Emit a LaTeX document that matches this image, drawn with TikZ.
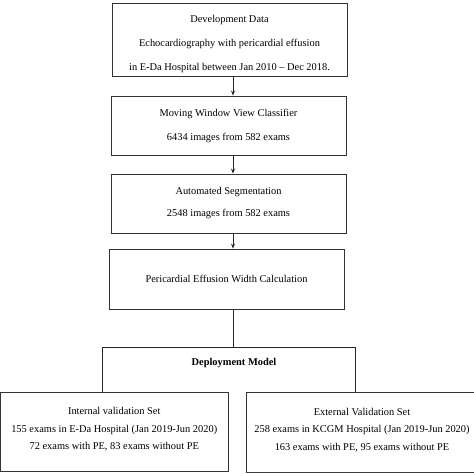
\documentclass[tikz,border=0pt]{standalone}
\usepackage{fontspec}
\setmainfont{Liberation Serif}
\usetikzlibrary{arrows.meta}
\begin{document}
\begin{tikzpicture}[x=1pt,y=-1pt,
  box/.style={draw=black!80, line width=0.9pt, inner sep=0pt, align=center,
    font=\fontsize{10.4pt}{12.5pt}\selectfont},
  conn/.style={draw=black!85, line width=0.9pt},
  arr/.style={conn, -{Stealth[length=5pt,width=4pt]}}]
\useasboundingbox (0,0) rectangle (474,474);
\clip (0,0) rectangle (474,474);
\fill[white] (0,0) rectangle (474,474);
\node[box, minimum width=235pt, minimum height=73pt] (b1) at (229.5,39.5)
  {\raisebox{-4pt}[\height][\depth]{\begin{tabular}{@{}c@{}}Development Data\\[11.5pt]Echocardiography with pericardial effusion\\[11.5pt]in E-Da Hospital between Jan 2010 -- Dec 2018.\end{tabular}}};
\node[box, minimum width=235pt, minimum height=59pt] (b2) at (228.5,125.5)
  {Moving Window View Classifier\\[11.5pt]6434 images from 582 exams};
\node[box, minimum width=235pt, minimum height=59pt] (b3) at (228.5,203.5)
  {Automated Segmentation\\[9.5pt]2548 images from 582 exams};
\node[box, minimum width=235pt, minimum height=60pt] (b4) at (226.5,279)
  {Pericardial Effusion Width Calculation};
\node[box, draw=none, font=\fontsize{10.4pt}{12.5pt}\selectfont\bfseries] (dm) at (234,363) {Deployment Model};
\node[box, minimum width=227.5pt, minimum height=79.5pt] (iv) at (114.25,431.75)
  {\raisebox{2pt}[\height][\depth]{\begin{tabular}{@{}c@{}}Internal validation Set\\[5pt]155 exams in E-Da Hospital (Jan 2019-Jun 2020)\\[5pt]72 exams with PE, 83 exams without PE\end{tabular}}};
\node[box, minimum width=232pt, minimum height=80pt] (ev) at (362,432)
  {\raisebox{2pt}[\height][\depth]{\begin{tabular}{@{}c@{}}External Validation Set\\[5pt]258 exams in KCGM Hospital (Jan 2019-Jun 2020)\\[5pt]163 exams with PE, 95 exams without PE\end{tabular}}};
\draw[black!75, line width=1.8pt] (ev.south west) -- (ev.south east);
\coordinate (ax) at (233,0);
\coordinate (dtl) at (102,347);
\coordinate (dtr) at (355,347);
\draw[arr] (b1.south -| ax) -- (b2.north -| ax);
\draw[arr] (b2.south -| ax) -- (b3.north -| ax);
\draw[arr] (b3.south -| ax) -- (b4.north -| ax);
\draw[conn] (b4.south -| ax) -- (dtl -| ax);
\draw[conn] (iv.north -| dtl) -- (dtl) -- (dtr) -- (ev.north -| dtr);
\end{tikzpicture}
\end{document}
